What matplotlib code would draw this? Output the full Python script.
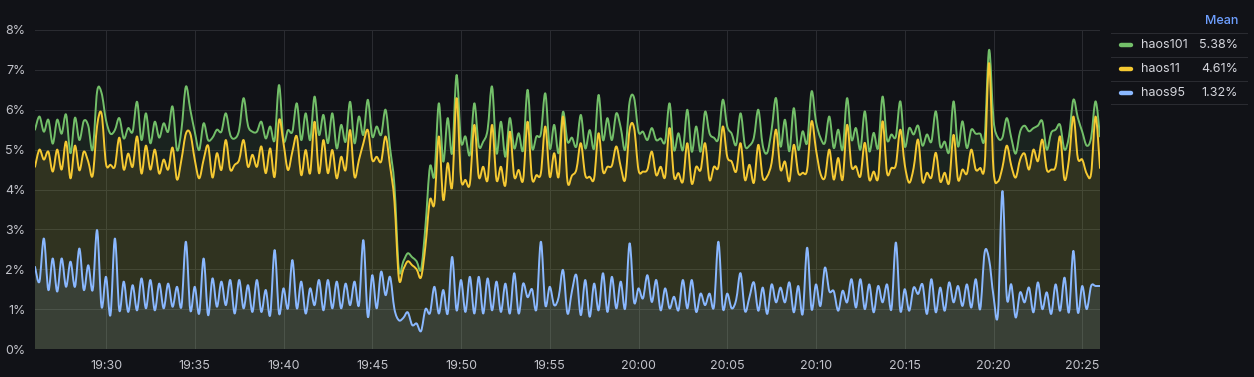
import matplotlib
matplotlib.use("Agg")
import matplotlib.pyplot as plt
import matplotlib.dates as mdates
from matplotlib.lines import Line2D
from matplotlib.path import Path
from matplotlib.patches import PathPatch
from matplotlib.ticker import FuncFormatter
import pandas as pd

# ---------------- data ----------------
series_names = ["haos101", "haos11", "haos95"]
series_means = ["5.38%", "4.61%", "1.32%"]
series_colors = ["#73BF69", "#F5C932", "#8AB8FF"]
start_time = "2024-01-01 19:26:00"
sample_step = "15s"

haos101 = [
    5.50, 5.83, 5.45, 5.75, 5.15, 5.75, 5.40, 5.88, 4.91, 5.80,
    5.24, 5.72, 5.60, 5.00, 6.46, 6.42, 5.74, 5.40, 5.49, 5.79,
    5.28, 5.54, 5.45, 6.20, 5.24, 5.91, 5.16, 5.70, 5.30, 5.66,
    5.45, 6.08, 4.99, 5.50, 6.58, 6.00, 5.45, 4.99, 5.66, 5.24,
    5.30, 5.50, 5.45, 5.91, 5.37, 5.28, 5.49, 6.29, 5.60, 5.45,
    5.45, 5.70, 5.28, 5.58, 5.24, 6.62, 5.24, 5.49, 5.45, 6.16,
    5.24, 5.91, 5.24, 6.33, 5.37, 5.87, 5.16, 5.91, 5.03, 5.62,
    5.20, 6.20, 5.16, 5.83, 5.37, 6.25, 5.33, 5.58, 5.37, 6.00,
    5.05, 4.10, 2.00, 2.20, 2.40, 2.30, 2.20, 2.00, 3.10, 4.57,
    4.35, 6.16, 4.70, 5.79, 4.91, 6.87, 5.20, 5.33, 4.87, 6.16,
    5.10, 5.20, 5.50, 6.58, 4.91, 5.70, 4.82, 5.79, 5.03, 5.41,
    4.99, 6.50, 5.05, 5.33, 5.40, 6.41, 5.03, 5.62, 4.91, 5.95,
    5.20, 5.30, 5.08, 5.87, 5.03, 5.49, 5.03, 6.37, 5.24, 5.79,
    5.24, 5.91, 5.55, 5.00, 6.20, 6.30, 5.45, 5.45, 5.24, 5.54,
    5.24, 5.28, 5.20, 6.16, 4.99, 5.41, 4.99, 6.00, 4.95, 5.58,
    4.95, 5.95, 5.41, 5.30, 5.28, 6.25, 5.58, 5.40, 5.12, 5.91,
    5.10, 5.10, 5.30, 6.00, 5.10, 4.92, 5.50, 6.29, 5.08, 5.75,
    4.96, 6.04, 5.00, 5.46, 5.17, 6.46, 5.70, 5.30, 5.17, 5.83,
    5.04, 5.50, 5.00, 6.29, 5.25, 5.54, 5.00, 5.96, 4.96, 5.42,
    5.04, 6.33, 5.25, 5.38, 5.33, 6.21, 5.08, 5.54, 5.38, 5.60,
    5.10, 5.38, 5.20, 5.96, 5.08, 5.20, 4.95, 6.21, 5.08, 5.71,
    5.04, 5.50, 5.40, 5.40, 5.30, 7.50, 5.75, 5.30, 5.30, 5.79,
    5.30, 4.90, 5.45, 5.60, 5.46, 5.54, 5.60, 5.71, 5.00, 5.42,
    5.50, 5.62, 5.00, 5.33, 6.25, 5.80, 5.45, 5.10, 5.30, 6.21,
    5.33,
]

haos11 = [
    4.57, 5.00, 4.75, 4.95, 4.45, 5.00, 4.50, 5.20, 4.28, 5.10,
    4.48, 4.95, 4.70, 4.35, 5.60, 5.90, 4.65, 4.62, 4.58, 5.30,
    4.50, 4.90, 4.57, 5.33, 4.40, 5.10, 4.50, 5.00, 4.40, 4.75,
    4.50, 5.05, 4.25, 4.75, 5.40, 5.40, 4.75, 4.28, 4.75, 5.10,
    4.30, 4.91, 4.49, 5.24, 4.50, 4.62, 4.74, 5.24, 4.57, 4.87,
    4.57, 5.08, 4.41, 5.03, 4.32, 5.74, 5.16, 4.49, 4.95, 5.33,
    4.36, 4.99, 4.41, 5.70, 4.41, 5.24, 4.41, 4.99, 4.28, 4.82,
    4.49, 5.49, 4.32, 4.74, 5.16, 5.49, 4.74, 4.82, 4.70, 5.33,
    4.60, 3.70, 1.77, 2.00, 2.20, 2.10, 2.00, 1.80, 2.60, 3.74,
    3.65, 5.33, 3.74, 4.66, 4.07, 6.29, 4.28, 4.24, 4.15, 5.62,
    4.32, 4.57, 4.24, 5.62, 4.24, 4.57, 4.11, 5.45, 4.32, 4.49,
    4.24, 5.70, 4.28, 4.36, 4.41, 5.58, 4.32, 4.91, 4.32, 5.83,
    4.20, 4.35, 4.50, 5.16, 4.36, 4.32, 4.28, 5.41, 4.45, 4.57,
    4.60, 5.08, 4.57, 4.25, 5.50, 5.55, 4.49, 4.45, 4.50, 4.95,
    4.36, 4.57, 4.32, 5.54, 4.32, 4.41, 4.20, 5.16, 4.15, 4.57,
    4.49, 5.16, 4.24, 4.57, 4.57, 5.58, 4.82, 4.70, 4.45, 5.16,
    4.24, 4.62, 4.17, 5.12, 4.30, 4.33, 4.67, 5.50, 4.50, 4.70,
    4.21, 5.12, 4.42, 4.42, 4.50, 5.71, 5.00, 4.40, 4.30, 5.00,
    4.25, 4.79, 4.25, 5.62, 4.58, 4.58, 4.33, 5.17, 4.25, 4.45,
    4.29, 5.71, 4.42, 4.54, 4.62, 5.50, 4.62, 4.17, 4.54, 5.25,
    4.20, 4.42, 4.30, 4.92, 4.20, 4.42, 4.17, 5.37, 4.25, 4.50,
    4.40, 5.00, 4.50, 4.54, 4.60, 7.17, 4.50, 4.20, 4.55, 5.10,
    4.60, 4.30, 4.75, 4.90, 4.50, 5.00, 4.71, 5.25, 4.50, 4.50,
    4.58, 5.33, 4.25, 4.75, 5.83, 4.79, 4.75, 4.40, 4.40, 5.83,
    4.54,
]

haos95 = [
    2.06, 1.69, 2.77, 1.48, 2.27, 1.44, 2.27, 1.56, 2.19, 1.56,
    2.52, 1.48, 2.10, 1.48, 2.98, 1.06, 1.81, 0.85, 2.77, 0.97,
    1.69, 0.93, 1.60, 0.97, 1.77, 1.02, 1.73, 0.97, 1.64, 1.02,
    1.64, 1.06, 1.56, 1.06, 2.69, 0.97, 1.56, 0.89, 2.27, 0.85,
    1.77, 1.06, 1.69, 1.10, 1.73, 0.89, 1.73, 1.02, 1.60, 0.93,
    1.73, 0.93, 1.48, 0.85, 2.48, 0.89, 1.52, 1.02, 2.23, 1.02,
    1.69, 0.89, 1.52, 1.10, 1.73, 0.97, 1.73, 1.02, 1.69, 1.02,
    1.64, 1.10, 1.69, 1.10, 2.73, 0.81, 1.85, 1.02, 1.94, 1.35,
    1.81, 1.00, 0.72, 0.78, 0.92, 0.60, 0.64, 0.45, 1.00, 0.90,
    1.56, 0.89, 1.48, 0.89, 2.31, 0.97, 1.73, 0.93, 1.81, 0.89,
    1.81, 0.89, 1.77, 0.97, 1.69, 0.93, 1.64, 0.89, 1.90, 0.89,
    1.64, 1.30, 1.50, 1.00, 2.69, 1.10, 1.56, 1.10, 1.30, 1.98,
    0.89, 1.45, 1.85, 0.85, 1.73, 0.81, 1.64, 0.97, 1.90, 0.93,
    1.81, 1.02, 1.69, 1.02, 2.65, 1.18, 1.52, 1.27, 1.85, 1.18,
    1.73, 0.97, 1.52, 1.02, 1.31, 0.97, 1.73, 1.02, 1.73, 0.93,
    1.39, 1.10, 1.39, 1.06, 2.69, 1.02, 1.39, 1.02, 1.23, 1.90,
    0.95, 1.30, 1.67, 0.96, 1.54, 0.88, 1.62, 1.17, 1.54, 1.17,
    1.67, 0.92, 1.58, 0.88, 2.54, 1.00, 1.62, 1.08, 2.04, 1.45,
    1.45, 0.96, 1.46, 1.17, 1.75, 1.04, 1.75, 1.00, 1.62, 0.92,
    1.58, 1.17, 1.62, 1.00, 2.67, 0.96, 1.50, 0.96, 1.54, 1.38,
    1.62, 0.88, 1.75, 0.92, 1.54, 0.96, 1.67, 1.17, 1.58, 1.08,
    1.62, 1.04, 1.75, 1.00, 2.42, 2.25, 1.33, 0.88, 3.96, 1.29,
    1.62, 0.79, 1.42, 1.17, 1.54, 0.92, 1.67, 1.00, 1.42, 0.88,
    1.62, 0.96, 1.79, 0.92, 2.46, 0.92, 1.58, 1.00, 1.58, 1.58,
    1.58,
]

y_ticks = [0, 1, 2, 3, 4, 5, 6, 7, 8]

# ---------------- style ----------------
BG = "#111217"
GRID = "#2a2b31"
AXIS_TXT = "#c2c3ca"
LEGEND_TXT = "#d5d6dd"
plt.rcParams["font.family"] = ["Inter", "DejaVu Sans"]

W, H = 1254, 377
fig = plt.figure(figsize=(W / 100, H / 100), dpi=100, facecolor=BG)

x0, x1, ytop, ybot = 35, 1100, 30, 349
ax = fig.add_axes([x0 / W, (H - ybot) / H, (x1 - x0) / W, (ybot - ytop) / H])
ax.set_facecolor(BG)
ax.xaxis_date()

times = pd.date_range(start_time, periods=len(haos101), freq=sample_step)
xnum = list(mdates.date2num(times.to_pydatetime()))
all_series = [haos101, haos11, haos95]


def smooth_path(xs, ys, base=None):
    """Catmull-Rom style smooth rendering (like Grafana 'smooth' lines)."""
    n = len(xs)
    verts = [(xs[0], ys[0])]
    codes = [Path.MOVETO]
    for i in range(n - 1):
        xm, ym = (xs[i - 1], ys[i - 1]) if i > 0 else (xs[i], ys[i])
        xp, yp = (xs[i + 2], ys[i + 2]) if i + 2 < n else (xs[i + 1], ys[i + 1])
        c1 = (xs[i] + (xs[i + 1] - xm) / 6, ys[i] + (ys[i + 1] - ym) / 6)
        c2 = (xs[i + 1] - (xp - xs[i]) / 6, ys[i + 1] - (yp - ys[i]) / 6)
        verts += [c1, c2, (xs[i + 1], ys[i + 1])]
        codes += [Path.CURVE4] * 3
    if base is not None:
        verts += [(xs[-1], base), (xs[0], base), (xs[0], ys[0])]
        codes += [Path.LINETO, Path.LINETO, Path.CLOSEPOLY]
    return Path(verts, codes)


for vals, col in zip(all_series, series_colors):
    ax.add_patch(PathPatch(smooth_path(xnum, vals, base=0), facecolor=col,
                           alpha=0.1, lw=0, zorder=2))
for vals, col in zip(all_series, series_colors):
    ax.add_patch(PathPatch(smooth_path(xnum, vals), facecolor="none",
                           edgecolor=col, lw=1.4, zorder=3,
                           joinstyle="round", capstyle="round"))

ax.set_ylim(0, 8)
ax.set_xlim(times[0], times[0] + pd.Timedelta(minutes=60))
ax.set_yticks(y_ticks)
ax.yaxis.set_major_formatter(FuncFormatter(lambda v, p: f"{int(v)}%"))
ax.xaxis.set_major_locator(mdates.MinuteLocator(byminute=range(0, 60, 5)))
ax.xaxis.set_major_formatter(mdates.DateFormatter("%H:%M"))

for s in ax.spines.values():
    s.set_visible(False)
ax.grid(True, color=GRID, lw=0.75, alpha=1.0, zorder=1)
ax.set_axisbelow(True)
ax.tick_params(axis="both", length=0, colors=AXIS_TXT, labelsize=9)
ax.tick_params(axis="y", pad=7)
ax.tick_params(axis="x", pad=8)

# ---------------- legend ----------------
def fy(py):
    return 1 - py / H

fig.text(1238 / W, fy(21), "Mean", color="#6E9FFF", fontsize=9,
         ha="right", va="center", fontweight="medium")
for py in [33.3, 57.3, 81, 104.3]:
    fig.add_artist(Line2D([1111 / W, 1247 / W], [fy(py), fy(py)],
                          transform=fig.transFigure, color=GRID, lw=0.75))
rows_y = [44.5, 68.7, 92.7]
for name, mean, col, py in zip(series_names, series_means, series_colors, rows_y):
    fig.add_artist(Line2D([1121 / W, 1131 / W], [fy(py), fy(py)],
                          transform=fig.transFigure, color=col, lw=3.2,
                          solid_capstyle="round"))
    fig.text(1141 / W, fy(py), name, color=LEGEND_TXT, fontsize=9,
             ha="left", va="center")
    fig.text(1238 / W, fy(py), mean, color=LEGEND_TXT, fontsize=9,
             ha="right", va="center")

fig.savefig("out.png", dpi=100, facecolor=BG)
